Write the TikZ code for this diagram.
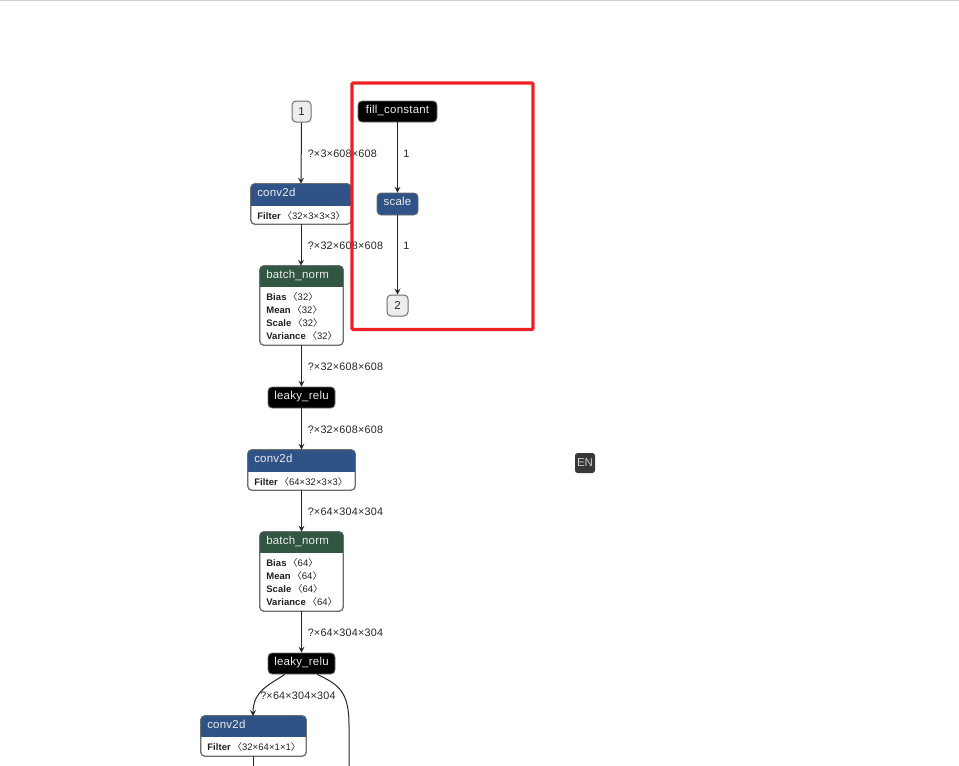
\documentclass[tikz,border=0pt]{standalone}
\usepackage{fontspec}
\setmainfont{Liberation Sans}
\newfontfamily\cjkf{Noto Sans CJK SC}
\newfontfamily\titlef[LetterSpace=2]{Liberation Sans}
\newfontfamily\labelf[LetterSpace=2]{Liberation Sans}
\newfontfamily\attrf[LetterSpace=1]{Liberation Sans}
\usetikzlibrary{arrows.meta}
\definecolor{opblue}{RGB}{48,83,135}
\definecolor{opgreen}{RGB}{49,86,66}
\definecolor{edgegray}{RGB}{110,110,110}
\definecolor{redbox}{RGB}{238,32,38}
\newcommand{\lb}{{\cjkf〈}}
\newcommand{\rb}{{\cjkf〉}}
\newcommand{\attr}[2]{\textbf{#1}\,\lb#2\rb}
% name, left, top, sep, right, bottom, colour, title, attribute lines
\newcommand{\opbox}[9]{%
  \node[outerbox,minimum width={(#5-#2)*0.75pt},minimum height={(#6-#3)*0.75pt}] (#1) at ({(#2+#5)/2},{(#3+#6)/2}) {};
  \begin{scope}
    \clip[rounded corners=3pt] (#1.south west) rectangle (#1.north east);
    \fill[#7] (#2,#3) rectangle (#5,#4);
  \end{scope}
  \draw[edgegray,line width=.6pt,rounded corners=3pt] (#1.south west) rectangle (#1.north east);
  \node[headtext,anchor=west] (#1t) at (#2+6,{(#3+#4)/2}) {#8};
  \node[attrtext,anchor=north west] (#1a) at (#2+6,#4+5.2) {#9};
}
\tikzset{
  x=0.75pt,y=-0.75pt,
  outerbox/.style={draw=edgegray,fill=white,line width=.6pt,rounded corners=3pt,inner sep=0pt},
  headtext/.style={text=white!92!black,font=\titlef\fontsize{8.6pt}{10pt}\selectfont,inner sep=0pt,text height=5.4pt,text depth=3pt},
  attrtext/.style={text=black!88,font=\attrf\fontsize{7.1pt}{9.75pt}\selectfont,inner sep=0pt,align=left},
  blackop/.style={fill=black,draw=edgegray,line width=.6pt,rounded corners=3pt,text=white!92!black,font=\titlef\fontsize{8.6pt}{10pt}\selectfont,inner sep=0pt,minimum height=15.75pt,text height=5.4pt,text depth=3pt},
  blueop/.style={blackop,fill=opblue},
  argbox/.style={fill=black!7,draw=edgegray,line width=.75pt,rounded corners=3pt,text=black!85,font=\fontsize{8.6pt}{10pt}\selectfont,inner sep=0pt,minimum width=15pt,minimum height=15.75pt},
  edgelabel/.style={text=black!85,font=\labelf\fontsize{8.1pt}{10pt}\selectfont,inner sep=0pt,anchor=west},
  conn/.style={draw=black!85,line width=.75pt,-{Stealth[length=4.5pt,width=4.5pt,inset=1.8pt]}},
  connfree/.style={draw=black!85,line width=.75pt},
}
\begin{document}
\begin{tikzpicture}
\useasboundingbox (0,0) rectangle (959,765);
\fill[white] (0,0) rectangle (959,765);
\fill[black!18] (0,0) rectangle (959,1);
% nodes
\node[argbox,minimum width=14.25pt] (n1) at (301.5,111.5) {1};
\opbox{conva}{251}{184}{206}{351}{224}{opblue}{conv2d}{\attr{Filter}{32×3×3×3}}
\opbox{bna}{260}{266}{287}{343}{345}{opgreen}{batch\_norm}{\attr{Bias}{32}\\\attr{Mean}{32}\\\attr{Scale}{32}\\\attr{Variance}{32}}
\node[blackop,minimum width=50.25pt] (la) at (301.5,397.5) {leaky\_relu};
\opbox{convb}{248}{450}{472}{355}{490}{opblue}{conv2d}{\attr{Filter}{64×32×3×3}}
\opbox{bnb}{260}{532}{553}{343}{611}{opgreen}{batch\_norm}{\attr{Bias}{64}\\\attr{Mean}{64}\\\attr{Scale}{64}\\\attr{Variance}{64}}
\node[blackop,minimum width=50.25pt] (lb) at (301.5,663.5) {leaky\_relu};
\opbox{convc}{201}{716}{737}{306}{756}{opblue}{conv2d}{\attr{Filter}{32×64×1×1}}
\node[blackop,minimum width=59.25pt] (fc) at (397.5,111.5) {fill\_constant};
\node[blueop,minimum width=30.75pt,minimum height=16.5pt] (sc) at (397.5,204) {scale};
\node[argbox,minimum width=15.75pt] (n2) at (397.5,305.5) {2};
\coordinate (freea) at (253,766);
\coordinate (freeb) at (349,766);
% connectors
\draw[conn] (n1.south) -- (conva.north);
\draw[conn] (conva.south) -- (bna.north -| conva.south);
\draw[conn] (bna.south) -- (la.north);
\draw[conn] (la.south) -- (convb.north);
\draw[conn] (convb.south) -- (bnb.north);
\draw[conn] (bnb.south) -- (lb.north);
\draw[conn] (lb.south west) ++(17,0) .. controls +(-14,10) and (253,690) .. (253,716);
\draw[connfree] (lb.south east) ++(-18,0) .. controls +(20,10) and (349,690) .. (349,725) -- (freeb);
\draw[connfree] (convc.south -| freea) -- (freea);
\draw[conn] (fc.south) -- (sc.north);
\draw[conn] (sc.south) -- (n2.north);
% edge labels
\node[edgelabel] (e1) at (307.5,153.5) {?×3×608×608};
\node[edgelabel] (e2) at (307.5,245.5) {?×32×608×608};
\node[edgelabel] (e3) at (307.5,366.5) {?×32×608×608};
\node[edgelabel] (e4) at (307.5,429.5) {?×32×608×608};
\node[edgelabel] (e5) at (307.5,511.5) {?×64×304×304};
\node[edgelabel] (e6) at (307.5,632.5) {?×64×304×304};
\node[edgelabel] (e7) at (260,695.5) {?×64×304×304};
\node[edgelabel] (e8) at (403,153.5) {1};
\node[edgelabel] (e9) at (403,245.5) {1};
% annotation
\draw[redbox,line width=2.4pt,rounded corners=.8pt] (352,83) rectangle (533,329.5);
\node[fill=black!78,rounded corners=2pt,minimum width=15pt,minimum height=15pt,inner sep=0pt,text=white!80!black,font=\fontsize{8.6pt}{10pt}\selectfont] (en) at (585,463) {EN};
\end{tikzpicture}
\end{document}
